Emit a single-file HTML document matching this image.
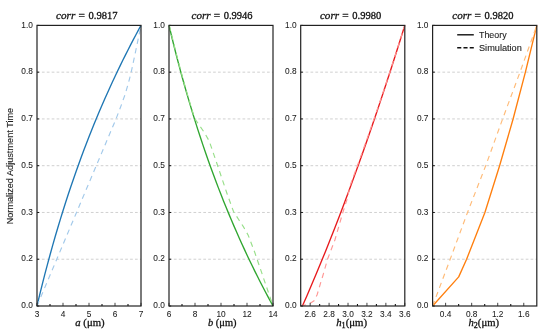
<!DOCTYPE html><html><head><meta charset="utf-8"><title>corr plots</title><style>html,body{margin:0;padding:0;background:#fff}svg{display:block}.tk{font-family:"Liberation Sans",sans-serif;font-size:8.3px;fill:#1a1a1a;stroke:#1a1a1a;stroke-width:0.06px}.sf{font-family:"Liberation Serif",serif;fill:#111;stroke:#111;stroke-width:0.28px}.ss{font-family:"Liberation Sans",sans-serif;fill:#1e1e1e;stroke:#1e1e1e;stroke-width:0.12px}</style></head><body>
<svg width="550" height="335" viewBox="0 0 550 335">
<rect width="550" height="335" fill="#fff"/>
<line x1="37" y1="259.23" x2="141" y2="259.23" stroke="#cbcbcb" stroke-width="0.9" stroke-dasharray="2.7 2.2"/>
<line x1="37" y1="212.47" x2="141" y2="212.47" stroke="#cbcbcb" stroke-width="0.9" stroke-dasharray="2.7 2.2"/>
<line x1="37" y1="165.7" x2="141" y2="165.7" stroke="#cbcbcb" stroke-width="0.9" stroke-dasharray="2.7 2.2"/>
<line x1="37" y1="118.93" x2="141" y2="118.93" stroke="#cbcbcb" stroke-width="0.9" stroke-dasharray="2.7 2.2"/>
<line x1="37" y1="72.17" x2="141" y2="72.17" stroke="#cbcbcb" stroke-width="0.9" stroke-dasharray="2.7 2.2"/>
<polyline points="37,306 39.6,295.14 42.2,284.63 44.8,274.44 47.4,264.55 50,254.95 52.6,245.62 55.2,236.55 57.8,227.72 60.4,219.11 63,210.73 65.6,202.55 68.2,194.57 70.8,186.78 73.4,179.16 76,171.72 78.6,164.44 81.2,157.32 83.8,150.35 86.4,143.52 89,136.83 91.6,130.27 94.2,123.84 96.8,117.53 99.4,111.34 102,105.27 104.6,99.3 107.2,93.44 109.8,87.68 112.4,82.02 115,76.45 117.6,70.98 120.2,65.59 122.8,60.29 125.4,55.08 128,49.94 130.6,44.89 133.2,39.91 135.8,35 138.4,30.17 141,25.4" fill="none" stroke="#1f77b4" stroke-width="1.35" stroke-linejoin="round"/>
<polyline points="37,306 116,119 120.6,107 124.9,95 128.3,83.5 131.2,72.2 136.1,49 141,25.4" fill="none" stroke="#a2c9ea" stroke-width="1.15" stroke-dasharray="5.3 4.4"/>
<line x1="37" y1="306" x2="39.2" y2="306" stroke="#111" stroke-width="1"/>
<text class="tk" x="32.9" y="308.2" text-anchor="end">0.0</text>
<line x1="37" y1="259.23" x2="39.2" y2="259.23" stroke="#111" stroke-width="1"/>
<text class="tk" x="32.9" y="261.43" text-anchor="end">0.2</text>
<line x1="37" y1="212.47" x2="39.2" y2="212.47" stroke="#111" stroke-width="1"/>
<text class="tk" x="32.9" y="214.67" text-anchor="end">0.3</text>
<line x1="37" y1="165.7" x2="39.2" y2="165.7" stroke="#111" stroke-width="1"/>
<text class="tk" x="32.9" y="167.9" text-anchor="end">0.5</text>
<line x1="37" y1="118.93" x2="39.2" y2="118.93" stroke="#111" stroke-width="1"/>
<text class="tk" x="32.9" y="121.13" text-anchor="end">0.7</text>
<line x1="37" y1="72.17" x2="39.2" y2="72.17" stroke="#111" stroke-width="1"/>
<text class="tk" x="32.9" y="74.37" text-anchor="end">0.8</text>
<line x1="37" y1="25.4" x2="39.2" y2="25.4" stroke="#111" stroke-width="1"/>
<text class="tk" x="32.9" y="27.6" text-anchor="end">1.0</text>
<line x1="37" y1="306" x2="37" y2="302.8" stroke="#444" stroke-width="1"/>
<text class="tk" x="37" y="317" text-anchor="middle">3</text>
<line x1="63" y1="306" x2="63" y2="302.8" stroke="#444" stroke-width="1"/>
<text class="tk" x="63" y="317" text-anchor="middle">4</text>
<line x1="89" y1="306" x2="89" y2="302.8" stroke="#444" stroke-width="1"/>
<text class="tk" x="89" y="317" text-anchor="middle">5</text>
<line x1="115" y1="306" x2="115" y2="302.8" stroke="#444" stroke-width="1"/>
<text class="tk" x="115" y="317" text-anchor="middle">6</text>
<line x1="141" y1="306" x2="141" y2="302.8" stroke="#444" stroke-width="1"/>
<text class="tk" x="141" y="317" text-anchor="middle">7</text>
<line x1="50" y1="306" x2="50" y2="304" stroke="#111" stroke-width="1.1"/>
<line x1="76" y1="306" x2="76" y2="304" stroke="#111" stroke-width="1.1"/>
<line x1="102" y1="306" x2="102" y2="304" stroke="#111" stroke-width="1.1"/>
<line x1="128" y1="306" x2="128" y2="304" stroke="#111" stroke-width="1.1"/>
<rect x="37" y="25.4" width="104" height="280.6" fill="none" stroke="#222" stroke-width="1.2"/>
<text class="sf" x="56.1" y="19.1" font-size="10" font-style="italic" textLength="19.2" lengthAdjust="spacingAndGlyphs">corr</text>
<text class="sf" x="78.5" y="19.1" font-size="10" textLength="6.4" lengthAdjust="spacingAndGlyphs">=</text>
<text class="sf" x="88.6" y="19.1" font-size="10" textLength="29" lengthAdjust="spacingAndGlyphs">0.9817</text>
<line x1="169" y1="259.23" x2="273" y2="259.23" stroke="#cbcbcb" stroke-width="0.9" stroke-dasharray="2.7 2.2"/>
<line x1="169" y1="212.47" x2="273" y2="212.47" stroke="#cbcbcb" stroke-width="0.9" stroke-dasharray="2.7 2.2"/>
<line x1="169" y1="165.7" x2="273" y2="165.7" stroke="#cbcbcb" stroke-width="0.9" stroke-dasharray="2.7 2.2"/>
<line x1="169" y1="118.93" x2="273" y2="118.93" stroke="#cbcbcb" stroke-width="0.9" stroke-dasharray="2.7 2.2"/>
<line x1="169" y1="72.17" x2="273" y2="72.17" stroke="#cbcbcb" stroke-width="0.9" stroke-dasharray="2.7 2.2"/>
<polyline points="169,25.4 171.6,36.26 174.2,46.77 176.8,56.96 179.4,66.85 182,76.45 184.6,85.78 187.2,94.85 189.8,103.68 192.4,112.29 195,120.67 197.6,128.85 200.2,136.83 202.8,144.62 205.4,152.24 208,159.68 210.6,166.96 213.2,174.08 215.8,181.05 218.4,187.88 221,194.57 223.6,201.13 226.2,207.56 228.8,213.87 231.4,220.06 234,226.13 236.6,232.1 239.2,237.96 241.8,243.72 244.4,249.38 247,254.95 249.6,260.42 252.2,265.81 254.8,271.11 257.4,276.32 260,281.46 262.6,286.51 265.2,291.49 267.8,296.4 270.4,301.23 273,306" fill="none" stroke="#30a630" stroke-width="1.35" stroke-linejoin="round"/>
<polyline points="169.35,25.4 171.3,33.58 173.25,41.56 175.2,49.35 177.15,56.96 179.1,64.41 181.05,71.69 183,78.81 184.95,85.78 186.9,92.61 188.85,99.3 190.8,105.86 192.75,112.29 194.7,118.6 204.4,132.6 209.2,141 215.2,158.5 226.9,193.2 233.5,211.5 238.5,219.3 243.2,226.4 248.2,235.2 254.8,252.5 273,306" fill="none" stroke="#98df8a" stroke-width="1.15" stroke-dasharray="5.3 4.4"/>
<line x1="169" y1="306" x2="171.2" y2="306" stroke="#111" stroke-width="1"/>
<text class="tk" x="164.9" y="308.2" text-anchor="end">0.0</text>
<line x1="169" y1="259.23" x2="171.2" y2="259.23" stroke="#111" stroke-width="1"/>
<text class="tk" x="164.9" y="261.43" text-anchor="end">0.2</text>
<line x1="169" y1="212.47" x2="171.2" y2="212.47" stroke="#111" stroke-width="1"/>
<text class="tk" x="164.9" y="214.67" text-anchor="end">0.3</text>
<line x1="169" y1="165.7" x2="171.2" y2="165.7" stroke="#111" stroke-width="1"/>
<text class="tk" x="164.9" y="167.9" text-anchor="end">0.5</text>
<line x1="169" y1="118.93" x2="171.2" y2="118.93" stroke="#111" stroke-width="1"/>
<text class="tk" x="164.9" y="121.13" text-anchor="end">0.7</text>
<line x1="169" y1="72.17" x2="171.2" y2="72.17" stroke="#111" stroke-width="1"/>
<text class="tk" x="164.9" y="74.37" text-anchor="end">0.8</text>
<line x1="169" y1="25.4" x2="171.2" y2="25.4" stroke="#111" stroke-width="1"/>
<text class="tk" x="164.9" y="27.6" text-anchor="end">1.0</text>
<line x1="169" y1="306" x2="169" y2="302.8" stroke="#444" stroke-width="1"/>
<text class="tk" x="169" y="317" text-anchor="middle">6</text>
<line x1="195" y1="306" x2="195" y2="302.8" stroke="#444" stroke-width="1"/>
<text class="tk" x="195" y="317" text-anchor="middle">8</text>
<line x1="221" y1="306" x2="221" y2="302.8" stroke="#444" stroke-width="1"/>
<text class="tk" x="221" y="317" text-anchor="middle">10</text>
<line x1="247" y1="306" x2="247" y2="302.8" stroke="#444" stroke-width="1"/>
<text class="tk" x="247" y="317" text-anchor="middle">12</text>
<line x1="273" y1="306" x2="273" y2="302.8" stroke="#444" stroke-width="1"/>
<text class="tk" x="273" y="317" text-anchor="middle">14</text>
<line x1="182" y1="306" x2="182" y2="304" stroke="#111" stroke-width="1.1"/>
<line x1="208" y1="306" x2="208" y2="304" stroke="#111" stroke-width="1.1"/>
<line x1="234" y1="306" x2="234" y2="304" stroke="#111" stroke-width="1.1"/>
<line x1="260" y1="306" x2="260" y2="304" stroke="#111" stroke-width="1.1"/>
<rect x="169" y="25.4" width="104" height="280.6" fill="none" stroke="#222" stroke-width="1.2"/>
<text class="sf" x="191.5" y="19.1" font-size="10" font-style="italic" textLength="19.04" lengthAdjust="spacingAndGlyphs">corr</text>
<text class="sf" x="213.72" y="19.1" font-size="10" textLength="6.35" lengthAdjust="spacingAndGlyphs">=</text>
<text class="sf" x="223.74" y="19.1" font-size="10" textLength="28.76" lengthAdjust="spacingAndGlyphs">0.9946</text>
<line x1="300.7" y1="259.23" x2="404.8" y2="259.23" stroke="#cbcbcb" stroke-width="0.9" stroke-dasharray="2.7 2.2"/>
<line x1="300.7" y1="212.47" x2="404.8" y2="212.47" stroke="#cbcbcb" stroke-width="0.9" stroke-dasharray="2.7 2.2"/>
<line x1="300.7" y1="165.7" x2="404.8" y2="165.7" stroke="#cbcbcb" stroke-width="0.9" stroke-dasharray="2.7 2.2"/>
<line x1="300.7" y1="118.93" x2="404.8" y2="118.93" stroke="#cbcbcb" stroke-width="0.9" stroke-dasharray="2.7 2.2"/>
<line x1="300.7" y1="72.17" x2="404.8" y2="72.17" stroke="#cbcbcb" stroke-width="0.9" stroke-dasharray="2.7 2.2"/>
<polyline points="302.4,306 307.06,295.4 311.71,284.59 316.37,273.58 321.02,262.36 325.68,250.94 330.33,239.32 334.98,227.48 339.64,215.45 344.29,203.21 348.95,190.76 353.6,178.11 358.26,165.25 362.91,152.19 367.56,138.92 372.22,125.45 376.87,111.77 381.53,97.89 386.18,83.8 390.84,69.51 395.49,55.01 400.15,40.31 404.8,25.4" fill="none" stroke="#e8191c" stroke-width="1.35" stroke-linejoin="round"/>
<polyline points="300.7,306 303,305.6 310.3,303.2 314.6,300.3 317.2,294.5 320,285 323.2,274.5 327.5,259.3 334.9,240 342.9,212.3 346.8,200 350.7,184 357.48,165.49 366.95,139.15 376.41,111.96 385.87,83.95 395.34,55.09 404.8,25.4" fill="none" stroke="#ff9896" stroke-width="1.15" stroke-dasharray="5.3 4.4"/>
<line x1="300.7" y1="306" x2="302.9" y2="306" stroke="#111" stroke-width="1"/>
<text class="tk" x="296.6" y="308.2" text-anchor="end">0.0</text>
<line x1="300.7" y1="259.23" x2="302.9" y2="259.23" stroke="#111" stroke-width="1"/>
<text class="tk" x="296.6" y="261.43" text-anchor="end">0.2</text>
<line x1="300.7" y1="212.47" x2="302.9" y2="212.47" stroke="#111" stroke-width="1"/>
<text class="tk" x="296.6" y="214.67" text-anchor="end">0.3</text>
<line x1="300.7" y1="165.7" x2="302.9" y2="165.7" stroke="#111" stroke-width="1"/>
<text class="tk" x="296.6" y="167.9" text-anchor="end">0.5</text>
<line x1="300.7" y1="118.93" x2="302.9" y2="118.93" stroke="#111" stroke-width="1"/>
<text class="tk" x="296.6" y="121.13" text-anchor="end">0.7</text>
<line x1="300.7" y1="72.17" x2="302.9" y2="72.17" stroke="#111" stroke-width="1"/>
<text class="tk" x="296.6" y="74.37" text-anchor="end">0.8</text>
<line x1="300.7" y1="25.4" x2="302.9" y2="25.4" stroke="#111" stroke-width="1"/>
<text class="tk" x="296.6" y="27.6" text-anchor="end">1.0</text>
<line x1="310.16" y1="306" x2="310.16" y2="302.8" stroke="#444" stroke-width="1"/>
<text class="tk" x="310.16" y="317" text-anchor="middle">2.6</text>
<line x1="329.09" y1="306" x2="329.09" y2="302.8" stroke="#444" stroke-width="1"/>
<text class="tk" x="329.09" y="317" text-anchor="middle">2.8</text>
<line x1="348.02" y1="306" x2="348.02" y2="302.8" stroke="#444" stroke-width="1"/>
<text class="tk" x="348.02" y="317" text-anchor="middle">3.0</text>
<line x1="366.95" y1="306" x2="366.95" y2="302.8" stroke="#444" stroke-width="1"/>
<text class="tk" x="366.95" y="317" text-anchor="middle">3.2</text>
<line x1="385.87" y1="306" x2="385.87" y2="302.8" stroke="#444" stroke-width="1"/>
<text class="tk" x="385.87" y="317" text-anchor="middle">3.4</text>
<line x1="404.8" y1="306" x2="404.8" y2="302.8" stroke="#444" stroke-width="1"/>
<text class="tk" x="404.8" y="317" text-anchor="middle">3.6</text>
<line x1="319.63" y1="306" x2="319.63" y2="304" stroke="#111" stroke-width="1.1"/>
<line x1="338.55" y1="306" x2="338.55" y2="304" stroke="#111" stroke-width="1.1"/>
<line x1="357.48" y1="306" x2="357.48" y2="304" stroke="#111" stroke-width="1.1"/>
<line x1="376.41" y1="306" x2="376.41" y2="304" stroke="#111" stroke-width="1.1"/>
<line x1="395.34" y1="306" x2="395.34" y2="304" stroke="#111" stroke-width="1.1"/>
<rect x="300.7" y="25.4" width="104.1" height="280.6" fill="none" stroke="#222" stroke-width="1.2"/>
<text class="sf" x="319.9" y="19.1" font-size="10" font-style="italic" textLength="19.17" lengthAdjust="spacingAndGlyphs">corr</text>
<text class="sf" x="342.26" y="19.1" font-size="10" textLength="6.39" lengthAdjust="spacingAndGlyphs">=</text>
<text class="sf" x="352.35" y="19.1" font-size="10" textLength="28.95" lengthAdjust="spacingAndGlyphs">0.9980</text>
<line x1="432.6" y1="259.23" x2="536.8" y2="259.23" stroke="#cbcbcb" stroke-width="0.9" stroke-dasharray="2.7 2.2"/>
<line x1="432.6" y1="212.47" x2="536.8" y2="212.47" stroke="#cbcbcb" stroke-width="0.9" stroke-dasharray="2.7 2.2"/>
<line x1="432.6" y1="165.7" x2="536.8" y2="165.7" stroke="#cbcbcb" stroke-width="0.9" stroke-dasharray="2.7 2.2"/>
<line x1="432.6" y1="118.93" x2="536.8" y2="118.93" stroke="#cbcbcb" stroke-width="0.9" stroke-dasharray="2.7 2.2"/>
<line x1="432.6" y1="72.17" x2="536.8" y2="72.17" stroke="#cbcbcb" stroke-width="0.9" stroke-dasharray="2.7 2.2"/>
<polyline points="432.6,306 458.7,276.9 466.6,259.25 476.5,234 484.9,212.5 499.6,165.75 513.1,119 525.4,72.2 536.8,25.4" fill="none" stroke="#ff7f0e" stroke-width="1.35" stroke-linejoin="round"/>
<polyline points="432.6,306 450.2,259.25 467.5,212.5 485.7,165.75 502.6,119 520,72.2 536.8,25.4" fill="none" stroke="#ffbb78" stroke-width="1.15" stroke-dasharray="5.3 4.4"/>
<line x1="432.6" y1="306" x2="434.8" y2="306" stroke="#111" stroke-width="1"/>
<text class="tk" x="428.5" y="308.2" text-anchor="end">0.0</text>
<line x1="432.6" y1="259.23" x2="434.8" y2="259.23" stroke="#111" stroke-width="1"/>
<text class="tk" x="428.5" y="261.43" text-anchor="end">0.2</text>
<line x1="432.6" y1="212.47" x2="434.8" y2="212.47" stroke="#111" stroke-width="1"/>
<text class="tk" x="428.5" y="214.67" text-anchor="end">0.3</text>
<line x1="432.6" y1="165.7" x2="434.8" y2="165.7" stroke="#111" stroke-width="1"/>
<text class="tk" x="428.5" y="167.9" text-anchor="end">0.5</text>
<line x1="432.6" y1="118.93" x2="434.8" y2="118.93" stroke="#111" stroke-width="1"/>
<text class="tk" x="428.5" y="121.13" text-anchor="end">0.7</text>
<line x1="432.6" y1="72.17" x2="434.8" y2="72.17" stroke="#111" stroke-width="1"/>
<text class="tk" x="428.5" y="74.37" text-anchor="end">0.8</text>
<line x1="432.6" y1="25.4" x2="434.8" y2="25.4" stroke="#111" stroke-width="1"/>
<text class="tk" x="428.5" y="27.6" text-anchor="end">1.0</text>
<line x1="445.62" y1="306" x2="445.62" y2="302.8" stroke="#444" stroke-width="1"/>
<text class="tk" x="445.62" y="317" text-anchor="middle">0.4</text>
<line x1="471.68" y1="306" x2="471.68" y2="302.8" stroke="#444" stroke-width="1"/>
<text class="tk" x="471.68" y="317" text-anchor="middle">0.8</text>
<line x1="497.72" y1="306" x2="497.72" y2="302.8" stroke="#444" stroke-width="1"/>
<text class="tk" x="497.72" y="317" text-anchor="middle">1.2</text>
<line x1="523.77" y1="306" x2="523.77" y2="302.8" stroke="#444" stroke-width="1"/>
<text class="tk" x="523.77" y="317" text-anchor="middle">1.6</text>
<line x1="458.65" y1="306" x2="458.65" y2="304" stroke="#111" stroke-width="1.1"/>
<line x1="484.7" y1="306" x2="484.7" y2="304" stroke="#111" stroke-width="1.1"/>
<line x1="510.75" y1="306" x2="510.75" y2="304" stroke="#111" stroke-width="1.1"/>
<rect x="432.6" y="25.4" width="104.2" height="280.6" fill="none" stroke="#222" stroke-width="1.2"/>
<text class="sf" x="452.3" y="19.1" font-size="10" font-style="italic" textLength="19.08" lengthAdjust="spacingAndGlyphs">corr</text>
<text class="sf" x="474.55" y="19.1" font-size="10" textLength="6.36" lengthAdjust="spacingAndGlyphs">=</text>
<text class="sf" x="484.59" y="19.1" font-size="10" textLength="28.81" lengthAdjust="spacingAndGlyphs">0.9820</text>
<text class="sf" x="75.3" y="326" font-size="10" textLength="29.4" lengthAdjust="spacingAndGlyphs"><tspan font-style="italic">a</tspan> (μm)</text>
<text class="sf" x="208" y="326" font-size="10" textLength="28.5" lengthAdjust="spacingAndGlyphs"><tspan font-style="italic">b</tspan> (μm)</text>
<text class="sf" x="336.2" y="326" font-size="10" textLength="30.9" lengthAdjust="spacingAndGlyphs"><tspan font-style="italic">h</tspan><tspan font-size="7.6" dy="1.8">1</tspan><tspan dy="-1.8">(μm)</tspan></text>
<text class="sf" x="468.5" y="326" font-size="10" textLength="30.5" lengthAdjust="spacingAndGlyphs"><tspan font-style="italic">h</tspan><tspan font-size="7.6" dy="1.8">2</tspan><tspan dy="-1.8">(μm)</tspan></text>
<text class="ss" x="0" y="0" font-size="9.4" text-anchor="middle" textLength="116.5" lengthAdjust="spacingAndGlyphs" transform="translate(12.8,166.1) rotate(-90)">Normalized Adjustment Time</text>
<line x1="457.2" y1="34.8" x2="473.8" y2="34.8" stroke="#111" stroke-width="1.4"/>
<line x1="457.2" y1="47.8" x2="473.8" y2="47.8" stroke="#111" stroke-width="1.4" stroke-dasharray="4.1 2.15"/>
<text class="ss" x="479.0" y="38.0" font-size="8.9" textLength="27.6" lengthAdjust="spacingAndGlyphs">Theory</text>
<text class="ss" x="479.0" y="50.6" font-size="8.9" textLength="42.8" lengthAdjust="spacingAndGlyphs">Simulation</text>
</svg></body></html>
